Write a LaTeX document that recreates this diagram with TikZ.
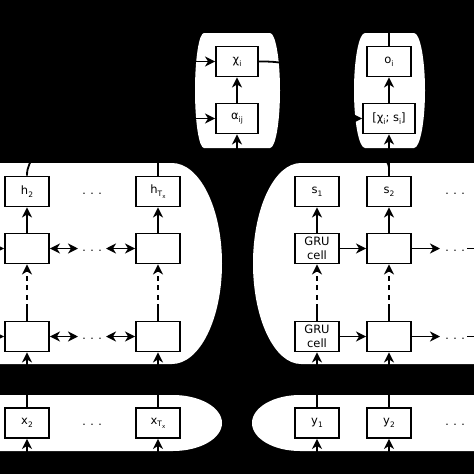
\documentclass[tikz,border=0pt]{standalone}
\usepackage{fontspec}
\setmainfont{DejaVu Sans}
\usetikzlibrary{arrows.meta}
\newcommand\sbs[1]{\raisebox{-0.45ex}{\fontsize{7.5}{7.5}\selectfont #1}}
\newcommand\ssbs[1]{\raisebox{-0.35ex}{\fontsize{5.5}{5.5}\selectfont #1}}
\newcommand\tdots{.\hspace{4.5pt}.\hspace{4.5pt}.}
\begin{document}
\begin{tikzpicture}[x=1pt,y=-1pt,
  box/.style={draw=black, fill=white, line width=1.9pt, minimum width=44pt, minimum height=30pt, inner sep=0pt, align=center, font=\fontsize{11.5}{13.5}\selectfont},
  conn/.style={draw=black, line width=1.8pt},
  arr/.style={conn, -{Stealth[length=10pt,width=10pt,inset=3pt]}},
  barr/.style={conn, {Stealth[length=10pt,width=10pt,inset=3pt]}-{Stealth[length=10pt,width=10pt,inset=3pt]}},
  darr/.style={arr, dash pattern=on 5pt off 4.5pt},
  dotsn/.style={font=\fontsize{11}{13}\selectfont, inner sep=0pt},
  region/.style={fill=white, draw=none}]
\useasboundingbox (0,0) rectangle (474,474);
\clip (0,0) rectangle (474,474);
\fill[black] (0,0) rectangle (474,474);
% white regions
\fill[white] (-5,163) -- (172,163) .. controls (199.6,163) and (222,208) .. (222,263.5) .. controls (222,319) and (199.6,364) .. (172,364) -- (-5,364) -- cycle;
\fill[white] (-5,395) -- (173,395) .. controls (200,395) and (222,407.5) .. (222,423) .. controls (222,438.5) and (200,451) .. (173,451) -- (-5,451) -- cycle;
\fill[white] (479,163) -- (301,163) .. controls (274.5,163) and (253,208) .. (253,263.5) .. controls (253,319) and (274.5,364) .. (301,364) -- (479,364) -- cycle;
\fill[white] (479,395) -- (300,395) .. controls (273.5,395) and (252,407.5) .. (252,423) .. controls (252,438.5) and (273.5,451) .. (300,451) -- (479,451) -- cycle;
\fill[white] (204,33) -- (270,33) .. controls (275.5,33) and (280,58.75) .. (280,90.5) .. controls (280,122.25) and (275.5,148) .. (270,148) -- (204,148) .. controls (199,148) and (195,122.25) .. (195,90.5) .. controls (195,58.75) and (199,33) .. (204,33) -- cycle;
\fill[white] (365,33) -- (414,33) .. controls (420,33) and (425,58.75) .. (425,90.5) .. controls (425,122.25) and (420,148) .. (414,148) -- (365,148) .. controls (359,148) and (354,122.25) .. (354,90.5) .. controls (354,58.75) and (359,33) .. (365,33) -- cycle;
% encoder nodes
\node[box] (h2) at (27,191.5) {h\sbs{2}};
\node[box] (hT) at (158,191.5) {h\sbs{T\ssbs{x}}};
\node[box] (e1) at (27,248.5) {};
\node[box] (e2) at (158,248.5) {};
\node[box] (f1) at (27,336.5) {};
\node[box] (f2) at (158,336.5) {};
\node[box] (x2) at (27,423) {x\sbs{2}};
\node[box] (xT) at (158,423) {x\sbs{T\ssbs{x}}};
% decoder nodes
\node[box] (s1) at (317,191.5) {s\sbs{1}};
\node[box] (s2) at (389,191.5) {s\sbs{2}};
\node[box] (g1) at (317,248.5) {GRU\\cell};
\node[box] (d1) at (389,248.5) {};
\node[box] (g2) at (317,336.5) {GRU\\cell};
\node[box] (d2) at (389,336.5) {};
\node[box] (y1) at (317,423) {y\sbs{1}};
\node[box] (y2) at (389,423) {y\sbs{2}};
% top nodes
\node[box, minimum width=42pt] (chi) at (237,61.5) {χ\sbs{i}};
\node[box, minimum width=42pt] (alpha) at (237,118.5) {α\sbs{ij}};
\node[box] (o) at (389,61.5) {o\sbs{i}};
\node[box, minimum width=52pt] (cat) at (389,118.5) {[χ\sbs{i}; s\sbs{i}]};
% dots
\node[dotsn] (dh) at (92,193.5) {\tdots};
\node[dotsn] (de1) at (92,250.5) {\tdots};
\node[dotsn] (de2) at (92,338.5) {\tdots};
\node[dotsn] (dx) at (92,425) {\tdots};
\node[dotsn] (ds) at (455,193.5) {\tdots};
\node[dotsn] (dd1) at (455,250.5) {\tdots};
\node[dotsn] (dd2) at (455,338.5) {\tdots};
\node[dotsn] (dy) at (455,425) {\tdots};
% free ends
\coordinate (inE1) at (-9,248.5);
\coordinate (inE2) at (-9,336.5);
\coordinate (e1r) at (78,248.5);
\coordinate (e2l) at (106,248.5);
\coordinate (f1r) at (78,336.5);
\coordinate (f2l) at (106,336.5);
\coordinate (f1u) at (27,309);
\coordinate (f2u) at (158,309);
\coordinate (g2u) at (317,309);
\coordinate (d2u) at (389,309);
\coordinate (f1b) at (27,372);
\coordinate (f2b) at (158,372);
\coordinate (g2b) at (317,372);
\coordinate (d2b) at (389,372);
\coordinate (x2b) at (27,458);
\coordinate (xTb) at (158,458);
\coordinate (y1b) at (317,458);
\coordinate (y2b) at (389,458);
\coordinate (x2t) at (27,386);
\coordinate (xTt) at (158,386);
\coordinate (y1t) at (317,386);
\coordinate (y2t) at (389,386);
\coordinate (h2t) at (36,150);
\coordinate (hTt) at (158,150);
\coordinate (s2t) at (389,152);
\coordinate (s2f) at (389,170);
\coordinate (s2b) at (383,155);
\coordinate (d1r) at (440,248.5);
\coordinate (d2r) at (440,336.5);
\coordinate (n1a) at (467,248.5);
\coordinate (n1b) at (480,248.5);
\coordinate (n2a) at (467,336.5);
\coordinate (n2b) at (480,336.5);
\coordinate (chiL) at (188,61.5);
\coordinate (alL) at (188,118.5);
\coordinate (alB) at (237,158);
\coordinate (chiR) at (290,64);
\coordinate (catL) at (340,118.5);
\coordinate (catB) at (389,158);
\coordinate (oT) at (389,25);
% encoder connectors
\draw[arr] (inE1) -- (e1.west);
\draw[arr] (inE2) -- (f1.west);
\draw[barr] (e1.east) -- (e1r);
\draw[barr] (e2l) -- (e2.west);
\draw[barr] (f1.east) -- (f1r);
\draw[barr] (f2l) -- (f2.west);
\draw[arr] (e1.north) -- (h2.south);
\draw[arr] (e2.north) -- (hT.south);
\draw[conn] (f1.north) -- (f1u);
\draw[darr] (f1u) -- (e1.south);
\draw[conn] (f2.north) -- (f2u);
\draw[darr] (f2u) -- (e2.south);
\draw[arr] (f1b) -- (f1.south);
\draw[arr] (f2b) -- (f2.south);
\draw[conn] (h2.north) .. controls (27,166) and (30,164) .. (h2t);
\draw[conn] (hT.north) -- (hTt);
\draw[conn] (x2.north) -- (x2t);
\draw[conn] (xT.north) -- (xTt);
\draw[arr] (x2b) -- (x2.south);
\draw[arr] (xTb) -- (xT.south);
% decoder connectors
\draw[arr] (g1.north) -- (s1.south);
\draw[arr] (d1.north) -- (s2.south);
\draw[arr] (g1.east) -- (d1.west);
\draw[arr] (g2.east) -- (d2.west);
\draw[arr] (d1.east) -- (d1r);
\draw[arr] (d2.east) -- (d2r);
\draw[conn] (n1a) -- (n1b);
\draw[conn] (n2a) -- (n2b);
\draw[conn] (g2.north) -- (g2u);
\draw[darr] (g2u) -- (g1.south);
\draw[conn] (d2.north) -- (d2u);
\draw[darr] (d2u) -- (d1.south);
\draw[arr] (g2b) -- (g2.south);
\draw[arr] (d2b) -- (d2.south);
\draw[conn] (s2.north) -- (s2t);
\draw[conn] (s2f) .. controls (389,165) .. (s2b);
\draw[conn] (y1.north) -- (y1t);
\draw[conn] (y2.north) -- (y2t);
\draw[arr] (y1b) -- (y1.south);
\draw[arr] (y2b) -- (y2.south);
% top connectors
\draw[arr] (chiL) -- (chi.west);
\draw[arr] (alL) -- (alpha.west);
\draw[arr] (alB) -- (alpha.south);
\draw[arr] (alpha.north) -- (chi.south);
\draw[conn] (chi.east) .. controls (272,61.5) .. (chiR);
\draw[arr] (catL) -- (cat.west);
\draw[arr] (cat.north) -- (o.south);
\draw[arr] (catB) -- (cat.south);
\draw[conn] (o.north) -- (oT);
\end{tikzpicture}
\end{document}
